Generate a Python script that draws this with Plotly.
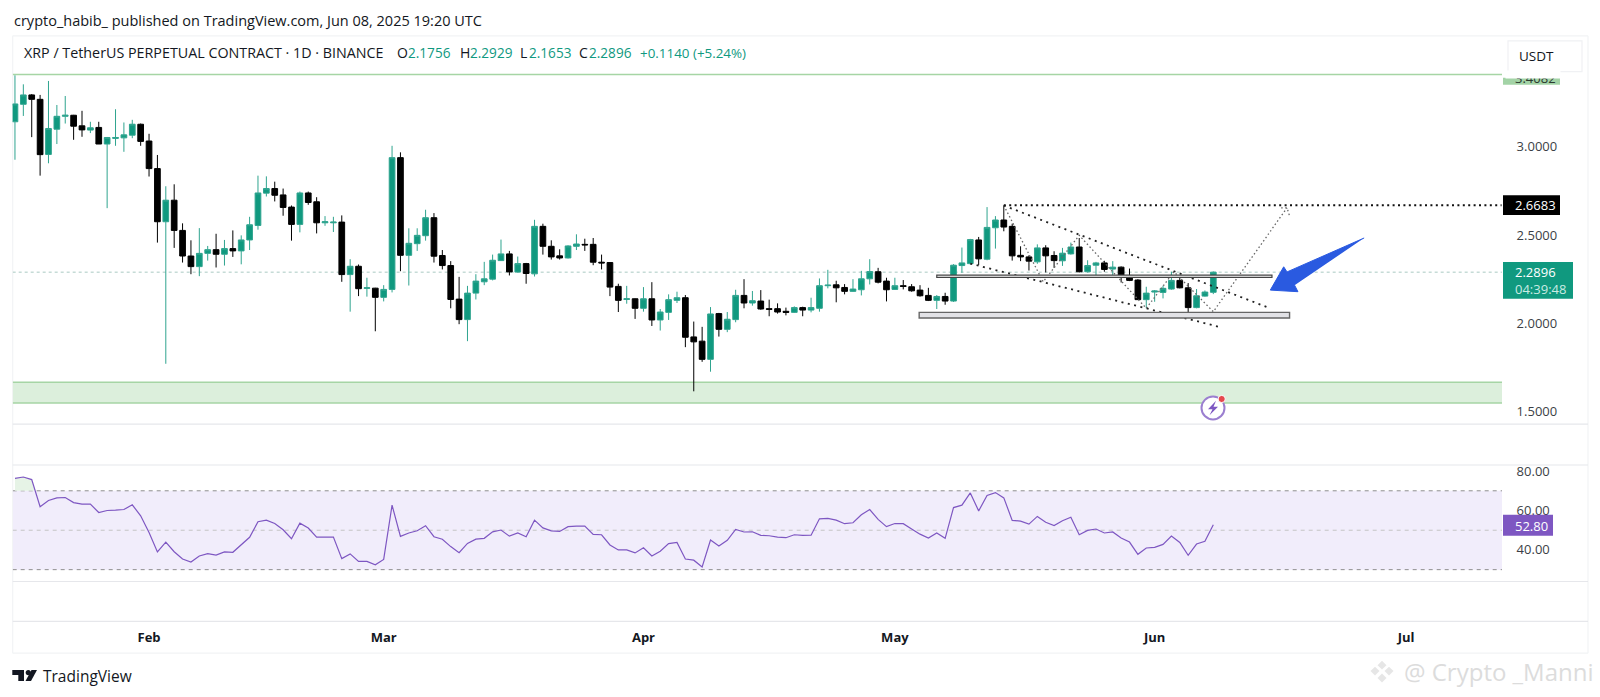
import pandas as pd
import plotly.graph_objects as go

W, H = 1600, 697

# Daily candles, first candle is Jan 16 2025
open_ = [3.141, 3.240, 3.293, 3.268, 2.956, 3.099, 3.172, 3.178, 3.118, 3.094, 3.109, 3.015,
         3.047, 3.050, 3.065, 3.127, 3.032, 2.876, 2.575, 2.697, 2.526, 2.381, 2.321, 2.396,
         2.417, 2.391, 2.423, 2.410, 2.472, 2.554, 2.737, 2.763, 2.727, 2.658, 2.560, 2.738,
         2.688, 2.569, 2.569, 2.573, 2.276, 2.323, 2.198, 2.199, 2.147, 2.192, 2.938, 2.385,
         2.451, 2.496, 2.598, 2.384, 2.327, 2.137, 2.021, 2.171, 2.235, 2.250, 2.355, 2.393,
         2.290, 2.338, 2.280, 2.549, 2.436, 2.382, 2.370, 2.436, 2.447, 2.447, 2.346, 2.344,
         2.209, 2.135, 2.139, 2.085, 2.139, 2.019, 2.062, 2.130, 2.145, 1.923, 1.899, 1.796,
         2.055, 1.966, 2.021, 2.158, 2.115, 2.126, 2.083, 2.083, 2.068, 2.062, 2.089, 2.075,
         2.085, 2.213, 2.218, 2.203, 2.181, 2.190, 2.252, 2.292, 2.239, 2.192, 2.213, 2.207,
         2.188, 2.158, 2.130, 2.152, 2.126, 2.327, 2.338, 2.472, 2.363, 2.541, 2.585, 2.549,
         2.385, 2.376, 2.348, 2.427, 2.384, 2.354, 2.393, 2.432, 2.292, 2.329, 2.342, 2.307,
         2.318, 2.271, 2.245, 2.134, 2.177, 2.175, 2.194, 2.243, 2.201, 2.089, 2.154, 2.1756]
high = [3.404, 3.353, 3.298, 3.293, 3.372, 3.236, 3.287, 3.180, 3.203, 3.141, 3.141, 3.055,
        3.212, 3.137, 3.152, 3.131, 3.073, 2.953, 2.776, 2.787, 2.566, 2.470, 2.539, 2.438,
        2.507, 2.472, 2.526, 2.498, 2.603, 2.836, 2.832, 2.802, 2.763, 2.667, 2.746, 2.746,
        2.714, 2.607, 2.603, 2.611, 2.363, 2.333, 2.258, 2.201, 2.216, 3.005, 2.968, 2.538,
        2.538, 2.643, 2.624, 2.415, 2.352, 2.263, 2.212, 2.278, 2.348, 2.389, 2.474, 2.410,
        2.378, 2.342, 2.586, 2.564, 2.470, 2.419, 2.442, 2.504, 2.479, 2.483, 2.389, 2.346,
        2.224, 2.212, 2.141, 2.205, 2.233, 2.081, 2.164, 2.179, 2.160, 2.010, 1.980, 2.092,
        2.059, 2.064, 2.190, 2.250, 2.183, 2.188, 2.134, 2.113, 2.089, 2.096, 2.094, 2.145,
        2.254, 2.303, 2.241, 2.222, 2.250, 2.297, 2.363, 2.314, 2.258, 2.258, 2.245, 2.222,
        2.216, 2.201, 2.160, 2.173, 2.335, 2.429, 2.478, 2.489, 2.658, 2.607, 2.667, 2.564,
        2.436, 2.385, 2.447, 2.442, 2.408, 2.427, 2.457, 2.483, 2.357, 2.348, 2.354, 2.352,
        2.322, 2.310, 2.250, 2.207, 2.188, 2.213, 2.292, 2.263, 2.228, 2.194, 2.186, 2.2929]
low = [2.926, 3.174, 3.054, 2.836, 2.906, 3.015, 3.131, 3.039, 3.056, 3.077, 3.015, 2.652,
       3.005, 2.971, 3.048, 3.005, 2.831, 2.457, 1.771, 2.427, 2.344, 2.278, 2.267, 2.355,
       2.316, 2.327, 2.376, 2.334, 2.415, 2.530, 2.718, 2.690, 2.609, 2.468, 2.515, 2.671,
       2.509, 2.552, 2.517, 2.235, 2.066, 2.154, 2.151, 1.955, 2.124, 2.175, 2.295, 2.214,
       2.410, 2.468, 2.344, 2.305, 2.085, 1.995, 1.899, 2.135, 2.216, 2.243, 2.353, 2.271,
       2.288, 2.224, 2.265, 2.389, 2.361, 2.361, 2.367, 2.415, 2.410, 2.329, 2.305, 2.154,
       2.064, 2.111, 2.025, 2.066, 1.985, 1.959, 2.019, 2.115, 1.865, 1.615, 1.782, 1.726,
       1.925, 1.950, 2.006, 2.085, 2.100, 2.077, 2.040, 2.055, 2.045, 2.059, 2.040, 2.062,
       2.066, 2.198, 2.119, 2.164, 2.179, 2.158, 2.220, 2.226, 2.124, 2.190, 2.192, 2.179,
       2.151, 2.126, 2.081, 2.105, 2.121, 2.286, 2.333, 2.329, 2.357, 2.423, 2.521, 2.355,
       2.352, 2.299, 2.337, 2.288, 2.314, 2.325, 2.389, 2.288, 2.288, 2.273, 2.292, 2.273,
       2.231, 2.239, 2.132, 2.085, 2.122, 2.141, 2.190, 2.198, 2.062, 2.085, 2.151, 2.1653]
close = [3.242, 3.293, 3.268, 2.955, 3.103, 3.172, 3.178, 3.116, 3.095, 3.107, 3.015, 3.052,
         3.052, 3.067, 3.127, 3.030, 2.876, 2.575, 2.697, 2.526, 2.381, 2.321, 2.396, 2.417,
         2.391, 2.423, 2.410, 2.472, 2.558, 2.738, 2.763, 2.725, 2.656, 2.560, 2.738, 2.684,
         2.569, 2.575, 2.573, 2.276, 2.323, 2.196, 2.201, 2.147, 2.192, 2.938, 2.385, 2.453,
         2.498, 2.598, 2.380, 2.327, 2.135, 2.021, 2.171, 2.239, 2.252, 2.357, 2.393, 2.291,
         2.338, 2.282, 2.549, 2.436, 2.376, 2.370, 2.438, 2.449, 2.444, 2.346, 2.342, 2.205,
         2.130, 2.139, 2.085, 2.139, 2.019, 2.064, 2.134, 2.145, 1.921, 1.895, 1.796, 2.053,
         1.966, 2.023, 2.158, 2.115, 2.128, 2.081, 2.079, 2.064, 2.062, 2.089, 2.075, 2.089,
         2.213, 2.216, 2.201, 2.181, 2.194, 2.252, 2.293, 2.233, 2.190, 2.213, 2.209, 2.184,
         2.156, 2.130, 2.152, 2.126, 2.329, 2.342, 2.474, 2.365, 2.543, 2.585, 2.545, 2.382,
         2.376, 2.352, 2.427, 2.382, 2.355, 2.397, 2.432, 2.292, 2.327, 2.342, 2.305, 2.318,
         2.273, 2.243, 2.134, 2.171, 2.183, 2.198, 2.243, 2.201, 2.089, 2.156, 2.177, 2.2896]
rsi = [76.3, 77.0, 75.7, 61.9, 65.1, 66.4, 66.6, 64.0, 63.2, 63.2, 59.0, 60.0,
       60.2, 60.5, 62.9, 57.3, 48.9, 39.0, 44.0, 39.1, 35.4, 33.9, 36.9, 38.1,
       37.4, 39.0, 38.8, 42.5, 46.4, 54.3, 55.1, 53.4, 50.2, 45.7, 53.6, 51.1,
       46.5, 46.5, 46.5, 35.6, 38.0, 34.2, 34.2, 32.5, 35.2, 62.7, 46.9, 48.6,
       49.7, 52.3, 46.7, 45.4, 41.7, 38.6, 43.3, 45.5, 45.9, 49.2, 50.1, 47.0,
       48.6, 46.7, 55.1, 51.2, 49.7, 49.4, 51.8, 52.1, 52.1, 47.9, 47.7, 42.5,
       40.0, 40.0, 38.5, 41.1, 36.9, 39.3, 43.2, 43.8, 35.4, 34.8, 31.4, 45.0,
       42.0, 44.9, 50.4, 49.1, 49.2, 47.4, 47.2, 46.5, 46.2, 47.7, 47.4, 47.5,
       55.8, 56.0, 55.1, 53.3, 53.8, 57.8, 60.5, 55.5, 51.8, 53.4, 53.3, 50.6,
       48.0, 46.0, 48.6, 45.9, 61.5, 62.7, 68.9, 59.8, 67.6, 69.1, 66.4, 55.0,
       54.6, 53.1, 57.0, 54.0, 52.4, 54.8, 56.6, 47.7, 49.9, 50.6, 48.6, 49.1,
       46.0, 44.0, 37.8, 41.0, 41.3, 42.8, 47.0, 43.8, 37.3, 43.0, 44.4, 52.8]

month_ticks = ["2025-02-01", "2025-03-01", "2025-04-01", "2025-05-01", "2025-06-01", "2025-07-01"]
month_labels = ["Feb", "Mar", "Apr", "May", "Jun", "Jul"]
price_ticks = [1.5, 2.0, 2.5, 3.0]
rsi_ticks = [40, 60, 80]

last_close = 2.2896
target_price = 2.6683
zone_top_line = 3.4082
demand_zone = [1.549, 1.667]

# Drawing anchors as (days since first candle, price)
upper_channel = [(118, 2.667), (149.5, 2.090)]
lower_channel = [(114, 2.338), (143.7, 1.980)]
zigzag = [(118, 2.667), (122.7, 2.235), (127, 2.498), (135, 2.085), (138.3, 2.292), (143, 2.066), (151.8, 2.654)]
zigzag_head = [(151.1, 2.654), (151.8, 2.654), (152.1, 2.607)]
target_from = 118
target_to = 177.4
resistance_bar = [(110, 2.260), (150, 2.273)]
support_bar = [(107.9, 2.030), (152.1, 2.062)]
blue_arrow = [(161.0, 2.483), (151.8, 2.291), (151.4, 2.320), (149.8, 2.188), (153.1, 2.179), (152.7, 2.216)]

GREEN = "#10997f"
GREEN_WICK = "#2fa48f"
PURPLE = "#7e57c2"
FONT = "Open Sans"

start = pd.Timestamp("2025-01-16")


def at(n):
    return start + pd.Timedelta(days=n)


def px(x):
    return x / W


def py(y):
    return 1 - y / H


dates = [at(i) for i in range(len(close))]

fig = go.Figure()

# Candles
fig.add_trace(go.Candlestick(
    x=dates, open=open_, high=high, low=low, close=close,
    xaxis="x", yaxis="y",
    increasing=dict(line=dict(color=GREEN_WICK, width=1), fillcolor=GREEN),
    decreasing=dict(line=dict(color="#000000", width=1), fillcolor="#000000"),
    whiskerwidth=0,
    showlegend=False,
))

# Thin zigzag projection with its open arrow head
for seg in (zigzag, zigzag_head):
    fig.add_trace(go.Scatter(
        x=[at(p[0]) for p in seg], y=[p[1] for p in seg],
        mode="lines", line=dict(color="#666666", width=1.3, dash="1.5px,2.5px"),
        xaxis="x", yaxis="y", showlegend=False,
    ))

# Falling channel
for seg in (upper_channel, lower_channel):
    fig.add_trace(go.Scatter(
        x=[at(p[0]) for p in seg], y=[p[1] for p in seg],
        mode="lines", line=dict(color="#222222", width=1.8, dash="2px,4.5px"),
        xaxis="x", yaxis="y", showlegend=False,
    ))

# Target level
fig.add_trace(go.Scatter(
    x=[at(target_from), at(target_to)], y=[target_price, target_price],
    mode="lines", line=dict(color="#111111", width=1.8, dash="2px,3.4px"),
    xaxis="x", yaxis="y", showlegend=False,
))

# Blue arrow
fig.add_trace(go.Scatter(
    x=[at(p[0]) for p in blue_arrow], y=[p[1] for p in blue_arrow],
    mode="lines", fill="toself", fillcolor="#2a5ae0", line=dict(color="#2a5ae0", width=1),
    xaxis="x", yaxis="y", showlegend=False,
))

# RSI
fig.add_trace(go.Scatter(
    x=dates[:3] + [at(2.4)] + [dates[0]], y=rsi[:3] + [70, 70],
    mode="lines", fill="toself", fillcolor="#e6f3e6", line=dict(width=0),
    xaxis="x2", yaxis="y2", showlegend=False,
))
fig.add_trace(go.Scatter(
    x=dates, y=rsi, mode="lines", line=dict(color=PURPLE, width=1.2),
    xaxis="x2", yaxis="y2", showlegend=False,
))

x_range = [at(-0.27), at(177.45)]
shapes = []
ann = []


def box(x0, y0, x1, y1, fill, line="rgba(0,0,0,0)", width=0):
    shapes.append(dict(type="rect", xref="paper", yref="paper", x0=px(x0), x1=px(x1), y0=py(y0), y1=py(y1),
                       fillcolor=fill, line=dict(color=line, width=width), layer="above"))


def hline(x0, x1, y, color):
    shapes.append(dict(type="line", xref="paper", yref="paper", x0=px(x0), x1=px(x1), y0=py(y), y1=py(y),
                       line=dict(color=color, width=1.2), layer="below"))


def vline(x, y0, y1, color):
    shapes.append(dict(type="line", xref="paper", yref="paper", x0=px(x), x1=px(x), y0=py(y0), y1=py(y1),
                       line=dict(color=color, width=1.2), layer="below"))


def poly(points, fill):
    path = "M" + " L".join(f"{px(x)} {py(y)}" for x, y in points) + " Z"
    shapes.append(dict(type="path", xref="paper", yref="paper", path=path, fillcolor=fill,
                       line=dict(width=0), layer="above"))


def circle(cx, cy, r, fill, line="rgba(0,0,0,0)", width=0):
    shapes.append(dict(type="circle", xref="paper", yref="paper",
                       x0=px(cx - r), x1=px(cx + r), y0=py(cy - r), y1=py(cy + r),
                       fillcolor=fill, line=dict(color=line, width=width), layer="above"))


def label(x, y, text, size=13, color="#131722", anchor="left", **kw):
    ann.append(dict(xref="paper", yref="paper", x=px(x), y=py(y), text=text, showarrow=False,
                    xanchor=anchor, yanchor="middle", font=dict(family=FONT, size=size, color=color), **kw))


# Frame and pane separators
for sep_y in (33, 653):
    hline(12.7, 1588, sep_y, "#f2f3f5")
vline(12.7, 33, 653, "#f2f3f5")
vline(1588, 33, 653, "#f2f3f5")
for sep_y in (423, 464, 581, 621):
    hline(12.7, 1588, sep_y, "#e6e7eb")

# Demand zone and top level
shapes.append(dict(type="rect", xref="x", yref="y", x0=x_range[0], x1=x_range[1],
                   y0=demand_zone[0], y1=demand_zone[1], fillcolor="#dcefdc",
                   line=dict(width=0), layer="below"))
for level in demand_zone + [zone_top_line]:
    shapes.append(dict(type="line", xref="x", yref="y", x0=x_range[0], x1=x_range[1],
                       y0=level, y1=level, line=dict(color="#a6d5a5", width=1.5), layer="below"))
# Last price line
shapes.append(dict(type="line", xref="x", yref="y", x0=x_range[0], x1=x_range[1],
                   y0=last_close, y1=last_close, line=dict(color="#a9c9c2", width=1, dash="dot"), layer="below"))

# Horizontal bars across the pattern
shapes.append(dict(type="rect", xref="x", yref="y", x0=at(resistance_bar[0][0]), x1=at(resistance_bar[1][0]),
                   y0=resistance_bar[0][1], y1=resistance_bar[1][1], fillcolor="#ffffff",
                   line=dict(color="#444444", width=1.2), layer="above"))
shapes.append(dict(type="rect", xref="x", yref="y", x0=at(support_bar[0][0]), x1=at(support_bar[1][0]),
                   y0=support_bar[0][1], y1=support_bar[1][1], fillcolor="#e2e2e6",
                   line=dict(color="#666666", width=1.4), layer="above"))

# RSI band
shapes.append(dict(type="rect", xref="x2", yref="y2", x0=x_range[0], x1=x_range[1], y0=30, y1=70,
                   fillcolor="#f1edfb", line=dict(width=0), layer="below"))
for level, color in ((70, "#8f8f8f"), (50, "#c4c4c4"), (30, "#8f8f8f")):
    shapes.append(dict(type="line", xref="x2", yref="y2", x0=x_range[0], x1=x_range[1], y0=level, y1=level,
                       line=dict(color=color, width=1, dash="4px,4px"), layer="below"))

# Price axis labels
box(1503, 75, 1560, 82, "#a3d3a6")
label(1513, 75.5, "3.4082", color="#2c3a30")
label(1505, 71.8, "&nbsp;" * 50, size=4, bgcolor="#ffffff")
box(1503, 193, 1560, 213, "#000000")
label(1513, 203, "2.6683", color="#ffffff")
box(1503, 260, 1573, 297, GREEN)
label(1513, 270, "2.2896", color="#ffffff")
label(1513, 287, "04:39:48", color="#c9ebe3")
box(1503, 514, 1553, 535, PURPLE)
label(1513, 525, "52.80", color="#ffffff")

# USDT button
shapes.append(dict(type="rect", xref="paper", yref="paper", x0=px(1508), x1=px(1582), y0=py(38), y1=py(69),
                   fillcolor="#ffffff", line=dict(color="#f0f1f4", width=1.2), layer="above"))
label(1536, 53, "USDT", size=13.5, anchor="center")

# Header texts
label(12, 18, "crypto_habib_ published on TradingView.com, Jun 08, 2025 19:20 UTC", size=14.5)
label(22, 50, "XRP / TetherUS PERPETUAL CONTRACT · 1D · BINANCE", size=14.3)
for x, head, x_val, val in ((395, "O", 406, "2.1756"), (458, "H", 468, "2.2929"),
                            (518, "L", 527, "2.1653"), (577, "C", 587, "2.2896")):
    label(x, 50, head, size=14)
    label(x_val, 50, val, size=13.6, color=GREEN)
label(638, 50, "+0.1140 (+5.24%)", size=13.4, color=GREEN)

# Alert icon
circle(1213, 406.7, 11.5, "#ffffff", "#9b7fd0", 2)
poly([(1216, 399.5), (1208, 408), (1212.5, 408), (1209.5, 414), (1218, 405.5), (1213.5, 405.5)], "#7e57c2")
circle(1221.7, 397.7, 3.6, "#e5484d", "#ffffff", 1)

# TradingView logo
poly([(12.3, 670), (24, 670), (24, 681), (18.3, 681), (18.3, 675), (12.3, 675)], "#131722")
circle(28.3, 672.5, 2.6, "#131722")
poly([(31.5, 670), (37, 670), (31, 681), (25.5, 681)], "#131722")
label(41, 676, "TradingView", size=15.5)

# Watermark
for cx, cy in ((1382, 665), (1375, 671), (1389, 671), (1382, 678)):
    poly([(cx, cy - 4.5), (cx + 4.5, cy), (cx, cy + 4.5), (cx - 4.5, cy)], "#e6e6e6")
label(1402, 671, "@ Crypto _Manni", size=24, color="#dcdcdc")

fig.update_layout(
    width=W, height=H,
    margin=dict(l=0, r=0, t=0, b=0),
    paper_bgcolor="#ffffff", plot_bgcolor="rgba(0,0,0,0)",
    showlegend=False,
    boxgap=0.32, boxgroupgap=0,
    shapes=shapes, annotations=ann,
    xaxis=dict(domain=[px(12.7), px(1502)], type="date", range=x_range, anchor="y",
               showticklabels=False, showgrid=False, zeroline=False, rangeslider=dict(visible=False), ticks=""),
    yaxis=dict(domain=[py(423), py(33)], range=[1.4290, 3.6274], anchor="x", side="right",
               tickmode="array", tickvals=price_ticks, tickformat=".4f", showgrid=False, zeroline=False,
               ticks="outside", ticklen=11, tickcolor="rgba(0,0,0,0)",
               tickfont=dict(family=FONT, size=13, color="#3c3f46")),
    xaxis2=dict(domain=[px(12.7), px(1502)], type="date", range=x_range, anchor="free", position=py(621),
                tickmode="array", tickvals=month_ticks,
                ticktext=[f"<b>{m}</b>" for m in month_labels], showgrid=False, zeroline=False,
                ticks="outside", ticklen=4, tickcolor="rgba(0,0,0,0)",
                tickfont=dict(family=FONT, size=13, color="#131722")),
    yaxis2=dict(domain=[py(581), py(464)], range=[23.99, 83.08], anchor="x2", side="right",
                tickmode="array", tickvals=rsi_ticks, tickformat=".2f", showgrid=False, zeroline=False,
                ticks="outside", ticklen=11, tickcolor="rgba(0,0,0,0)",
                tickfont=dict(family=FONT, size=13, color="#3c3f46")),
)

fig.write_html("out.html", config=dict(displayModeBar=False),
               post_script="document.body.style.margin='0';document.body.style.overflow='hidden';")
